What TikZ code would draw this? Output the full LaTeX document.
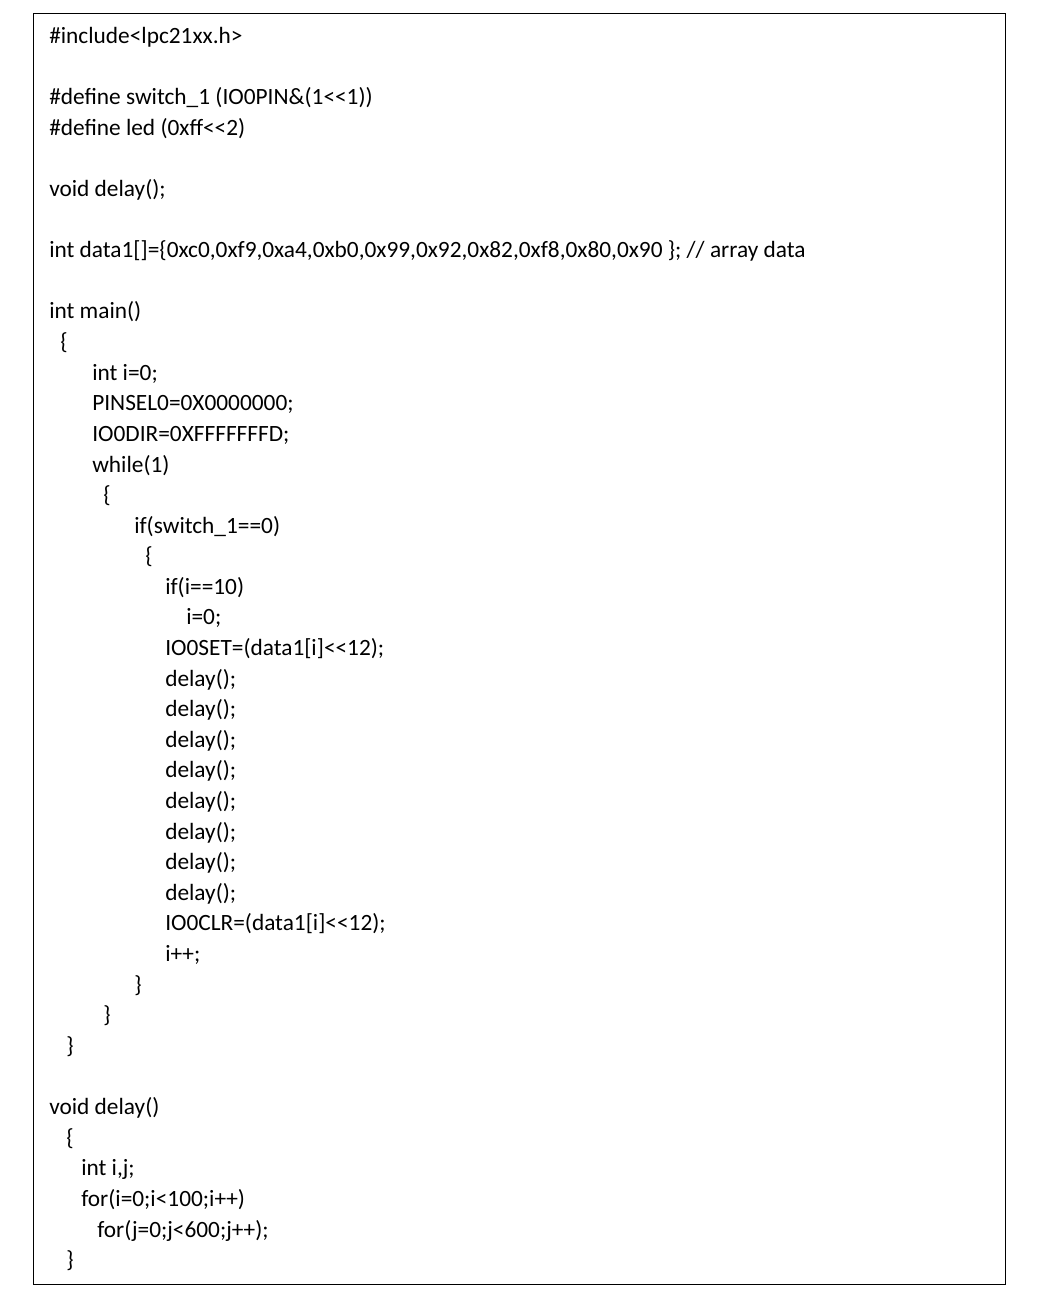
\documentclass[tikz,border=0pt]{standalone}
\usepackage{fontspec}
\setmainfont{Carlito}
\begin{document}
\begin{tikzpicture}[x=0.75pt,y=-0.75pt,
  code/.style={anchor=base west,inner sep=0pt,font=\fontsize{17.5}{19}\selectfont}]
\useasboundingbox (0,0) rectangle (1045,1315);
\node[draw,line width=1.1pt,minimum width=972*0.75pt,minimum height=1271*0.75pt,anchor=north west,inner sep=0pt] (box) at (33,13) {};
\node[code] (l1) at (49,43) {\#include<lpc21xx.h>};
\node[code] (l2) at (49,104) {\#define switch\_1 (IO0PIN\&(1<{}<1))};
\node[code] (l3) at (49,135) {\#define led (0xff<{}<2)};
\node[code] (l4) at (49,196) {void delay();};
\node[code] (l5) at (49,257) {int data1[]=\{0xc0,0xf9,0xa4,0xb0,0x99,0x92,0x82,0xf8,0x80,0x90 \}; // array data};
\node[code] (l6) at (49,318) {int main()};
\node[code] (l7) at (60,349) {\{};
\node[code] (l8) at (92,380) {int i=0;};
\node[code] (l9) at (92,410) {PINSEL0=0X0000000;};
\node[code] (l10) at (92,441) {IO0DIR=0XFFFFFFFD;};
\node[code] (l11) at (92,472) {while(1)};
\node[code] (l12) at (103,502) {\{};
\node[code] (l13) at (134,533) {if(switch\_1==0)};
\node[code] (l14) at (145,563) {\{};
\node[code] (l15) at (165,594) {if(i==10)};
\node[code] (l16) at (186,624) {i=0;};
\node[code] (l17) at (165,655) {IO0SET=(data1[i]<{}<12);};
\node[code] (l18) at (165,686) {delay();};
\node[code] (l19) at (165,716) {delay();};
\node[code] (l20) at (165,747) {delay();};
\node[code] (l21) at (165,777) {delay();};
\node[code] (l22) at (165,808) {delay();};
\node[code] (l23) at (165,839) {delay();};
\node[code] (l24) at (165,869) {delay();};
\node[code] (l25) at (165,900) {delay();};
\node[code] (l26) at (165,930) {IO0CLR=(data1[i]<{}<12);};
\node[code] (l27) at (165,961) {i++;};
\node[code] (l28) at (134,992) {\}};
\node[code] (l29) at (103,1022) {\}};
\node[code] (l30) at (66,1053) {\}};
\node[code] (l31) at (49,1114) {void delay()};
\node[code] (l32) at (66,1145) {\{};
\node[code] (l33) at (81,1175) {int i,j;};
\node[code] (l34) at (81,1206) {for(i=0;i<100;i++)};
\node[code] (l35) at (97,1237) {for(j=0;j<600;j++);};
\node[code] (l36) at (66,1267) {\}};
\end{tikzpicture}
\end{document}
